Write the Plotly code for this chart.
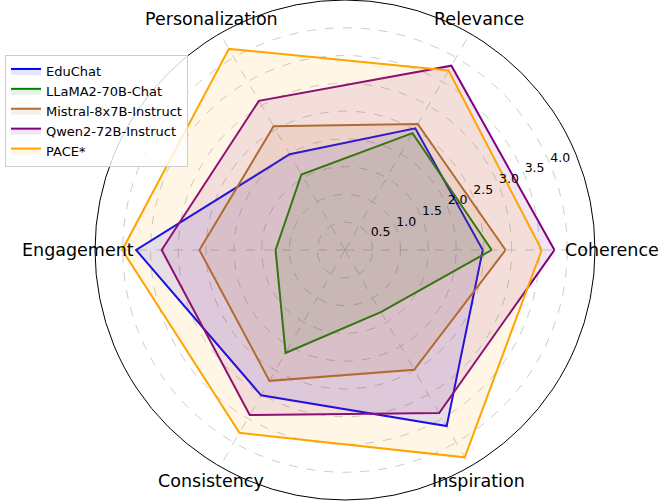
import math
import plotly.graph_objects as go

categories = ['Coherence', 'Relevance', 'Personalization', 'Engagement',
              'Consistency', 'Inspiration']

educhat = [2.48, 2.53, 1.99, 3.76, 3.02, 3.66]
llama2 = [2.64, 2.43, 1.57, 1.25, 2.14, 1.29]
mistral = [2.89, 2.62, 2.57, 2.62, 2.72, 2.49]
qwen2 = [3.77, 3.83, 3.10, 3.30, 3.43, 3.39]
pace = [3.54, 3.73, 4.18, 4.01, 3.80, 4.31]

r_ticks = [0.5, 1.0, 1.5, 2.0, 2.5, 3.0, 3.5, 4.0]

series = [
    ('EduChat', educhat, (0, 0, 255)),
    ('LLaMA2-70B-Chat', llama2, (0, 128, 0)),
    ('Mistral-8x7B-Instruct', mistral, (176, 112, 48)),
    ('Qwen2-72B-Instruct', qwen2, (128, 0, 128)),
    ('PACE*', pace, (255, 165, 0)),
]

font = 'DejaVu Sans, sans-serif'
n = len(categories)
angles = [i * 360 / n for i in range(n)]

fig = go.Figure()
for name, vals, (r, g, b) in series:
    fig.add_trace(go.Scatterpolar(
        r=vals + vals[:1],
        theta=angles + angles[:1],
        name=name,
        mode='lines',
        line=dict(color=f'rgb({r},{g},{b})', width=2),
        fill='toself',
        fillcolor=f'rgba({r},{g},{b},0.1)',
    ))

# radial tick labels like matplotlib's, horizontal along the 22.5 deg line
fig.add_trace(go.Scatterpolar(
    r=r_ticks, theta=[22.5] * len(r_ticks),
    mode='text', text=[f'{v:.1f}' for v in r_ticks],
    textposition='top right',
    textfont=dict(family=font, size=12.5, color='black'),
    showlegend=False, hoverinfo='skip',
))

# category labels placed like matplotlib's (centred just outside the rim)
for a_deg, cat in zip(angles, categories):
    a = math.radians(a_deg)
    fig.add_annotation(
        x=0.5 + 0.534 * math.cos(a), y=0.5 + 0.534 * math.sin(a),
        xref='paper', yref='paper', text=cat, showarrow=False,
        xanchor='center', yanchor='middle',
        font=dict(family=font, size=17.5, color='black'))

fig.update_layout(
    width=661, height=502,
    margin=dict(l=95, r=66, t=0, b=2, autoexpand=False),
    paper_bgcolor='white',
    font=dict(family=font, color='black'),
    polar=dict(
        bgcolor='white',
        domain=dict(x=[0, 1], y=[0, 1]),
        angularaxis=dict(
            rotation=0, direction='counterclockwise',
            tickmode='array', tickvals=angles,
            showticklabels=False, ticks='',
            showline=True, linecolor='black', linewidth=1,
            gridcolor='#cccccc', griddash='dash', gridwidth=1,
            layer='above traces',
        ),
        radialaxis=dict(
            range=[0, 4.5], tickvals=r_ticks,
            showticklabels=False, showline=False, ticks='',
            gridcolor='#cccccc', griddash='dash', gridwidth=1,
            layer='above traces',
        ),
    ),
    legend=dict(
        x=-0.18, y=0.89, xanchor='left', yanchor='top',
        bgcolor='rgba(255,255,255,0.8)', bordercolor='#cccccc', borderwidth=1,
        font=dict(family=font, size=13, color='black'),
    ),
)

# drop the page's default body margin so the figure sits at the window corner
fig.write_html('out.html', config={'displayModeBar': False},
               post_script="document.body.style.margin='0';")
